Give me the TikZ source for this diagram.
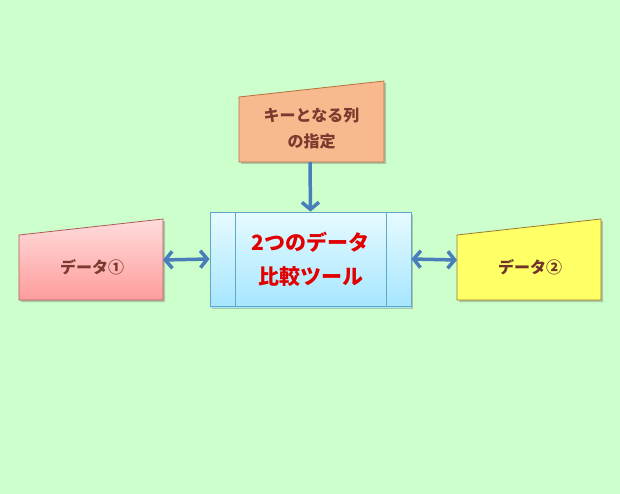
\documentclass[tikz,border=0pt]{standalone}
\usepackage{fontspec}
\newfontfamily\jp{Noto Sans CJK JP}
\usetikzlibrary{arrows.meta}
\definecolor{bg}{HTML}{CCFFCC}
\definecolor{arrowblue}{HTML}{4A7EBB}
\definecolor{orfill}{HTML}{F9B98E}
\definecolor{orline}{HTML}{B8703F}
\definecolor{brtext}{HTML}{7A3A2E}
\definecolor{pinktop}{HTML}{FFDCDC}
\definecolor{pinkbot}{HTML}{FF9C9C}
\definecolor{pinkline}{HTML}{B05A5A}
\definecolor{yelfill}{HTML}{FFFF66}
\definecolor{yelline}{HTML}{A0782A}
\definecolor{bluetop}{HTML}{E6FAFF}
\definecolor{bluebot}{HTML}{A6E6FF}
\definecolor{blueline}{HTML}{5FA8C8}
\definecolor{redtext}{HTML}{E00000}
\definecolor{shadowc}{HTML}{A8C8A8}
\tikzset{
  arr/.style={draw=arrowblue, line width=3.5pt, -{Straight Barb[length=7pt,width=17pt]}},
  darr/.style={draw=arrowblue, line width=3.5pt, {Straight Barb[length=7pt,width=17pt]}-{Straight Barb[length=7pt,width=17pt]}},
  lbl/.style={font=\jp\bfseries\fontsize{15}{24}\selectfont, align=center, text=brtext},
}
\begin{document}
\begin{tikzpicture}[x=1pt,y=-1pt]
\fill[bg] (0,0) rectangle (620,494);
\useasboundingbox (0,0) rectangle (620,494);
% top manual input
\fill[shadowc] (241,99) -- (386,83) -- (386,164) -- (241,164) -- cycle;
\filldraw[fill=orfill, draw=orline, line width=0.8pt] (239,97) -- (384,81) -- (384,162) -- (239,162) -- cycle;
\node[lbl, font=\jp\bfseries\fontsize{16}{26}\selectfont] (key) at (311.5,129) {キーとなる列\\の指定};
\coordinate (keyb) at (310,162);
% left data
\fill[shadowc] (21,237) -- (165,221) -- (165,302) -- (21,302) -- cycle;
\shade[top color=pinktop, bottom color=pinkbot] (19,235) -- (163,219) -- (163,300) -- (19,300) -- cycle;
\draw[pinkline, line width=0.8pt] (19,235) -- (163,219) -- (163,300) -- (19,300) -- cycle;
\node[lbl, font=\jp\bfseries\fontsize{16}{20}\selectfont] (d1) at (92,267) {データ①};
\coordinate (d1e) at (163,260);
% right data
\fill[shadowc] (459,237) -- (603,221) -- (603,302) -- (459,302) -- cycle;
\filldraw[fill=yelfill, draw=yelline, line width=0.8pt] (457,235) -- (601,219) -- (601,300) -- (457,300) -- cycle;
\node[lbl, font=\jp\bfseries\fontsize{16}{20}\selectfont, text=brtext!90!black] (d2) at (530,267) {データ②};
\coordinate (d2e) at (457,260);
% center tool
\fill[shadowc] (212,215) rectangle (413,309);
\shade[top color=bluetop, bottom color=bluebot] (210,213) rectangle (411,307);
\node[draw=blueline, line width=0.8pt, minimum width=201pt, minimum height=94pt, inner sep=0pt,
      font=\jp\bfseries\fontsize{21}{34}\selectfont, text=redtext, align=center] (tool) at (310.5,259) {2つのデータ\\比較ツール};
\draw[blueline, line width=0.8pt] (235,213) -- (235,307) (386,213) -- (386,307);
% connectors
\draw[arr] (keyb) -- (tool.north);
\draw[darr] (d1e) -- (tool.west);
\draw[darr] (d2e) -- (tool.east);
\end{tikzpicture}
\end{document}
